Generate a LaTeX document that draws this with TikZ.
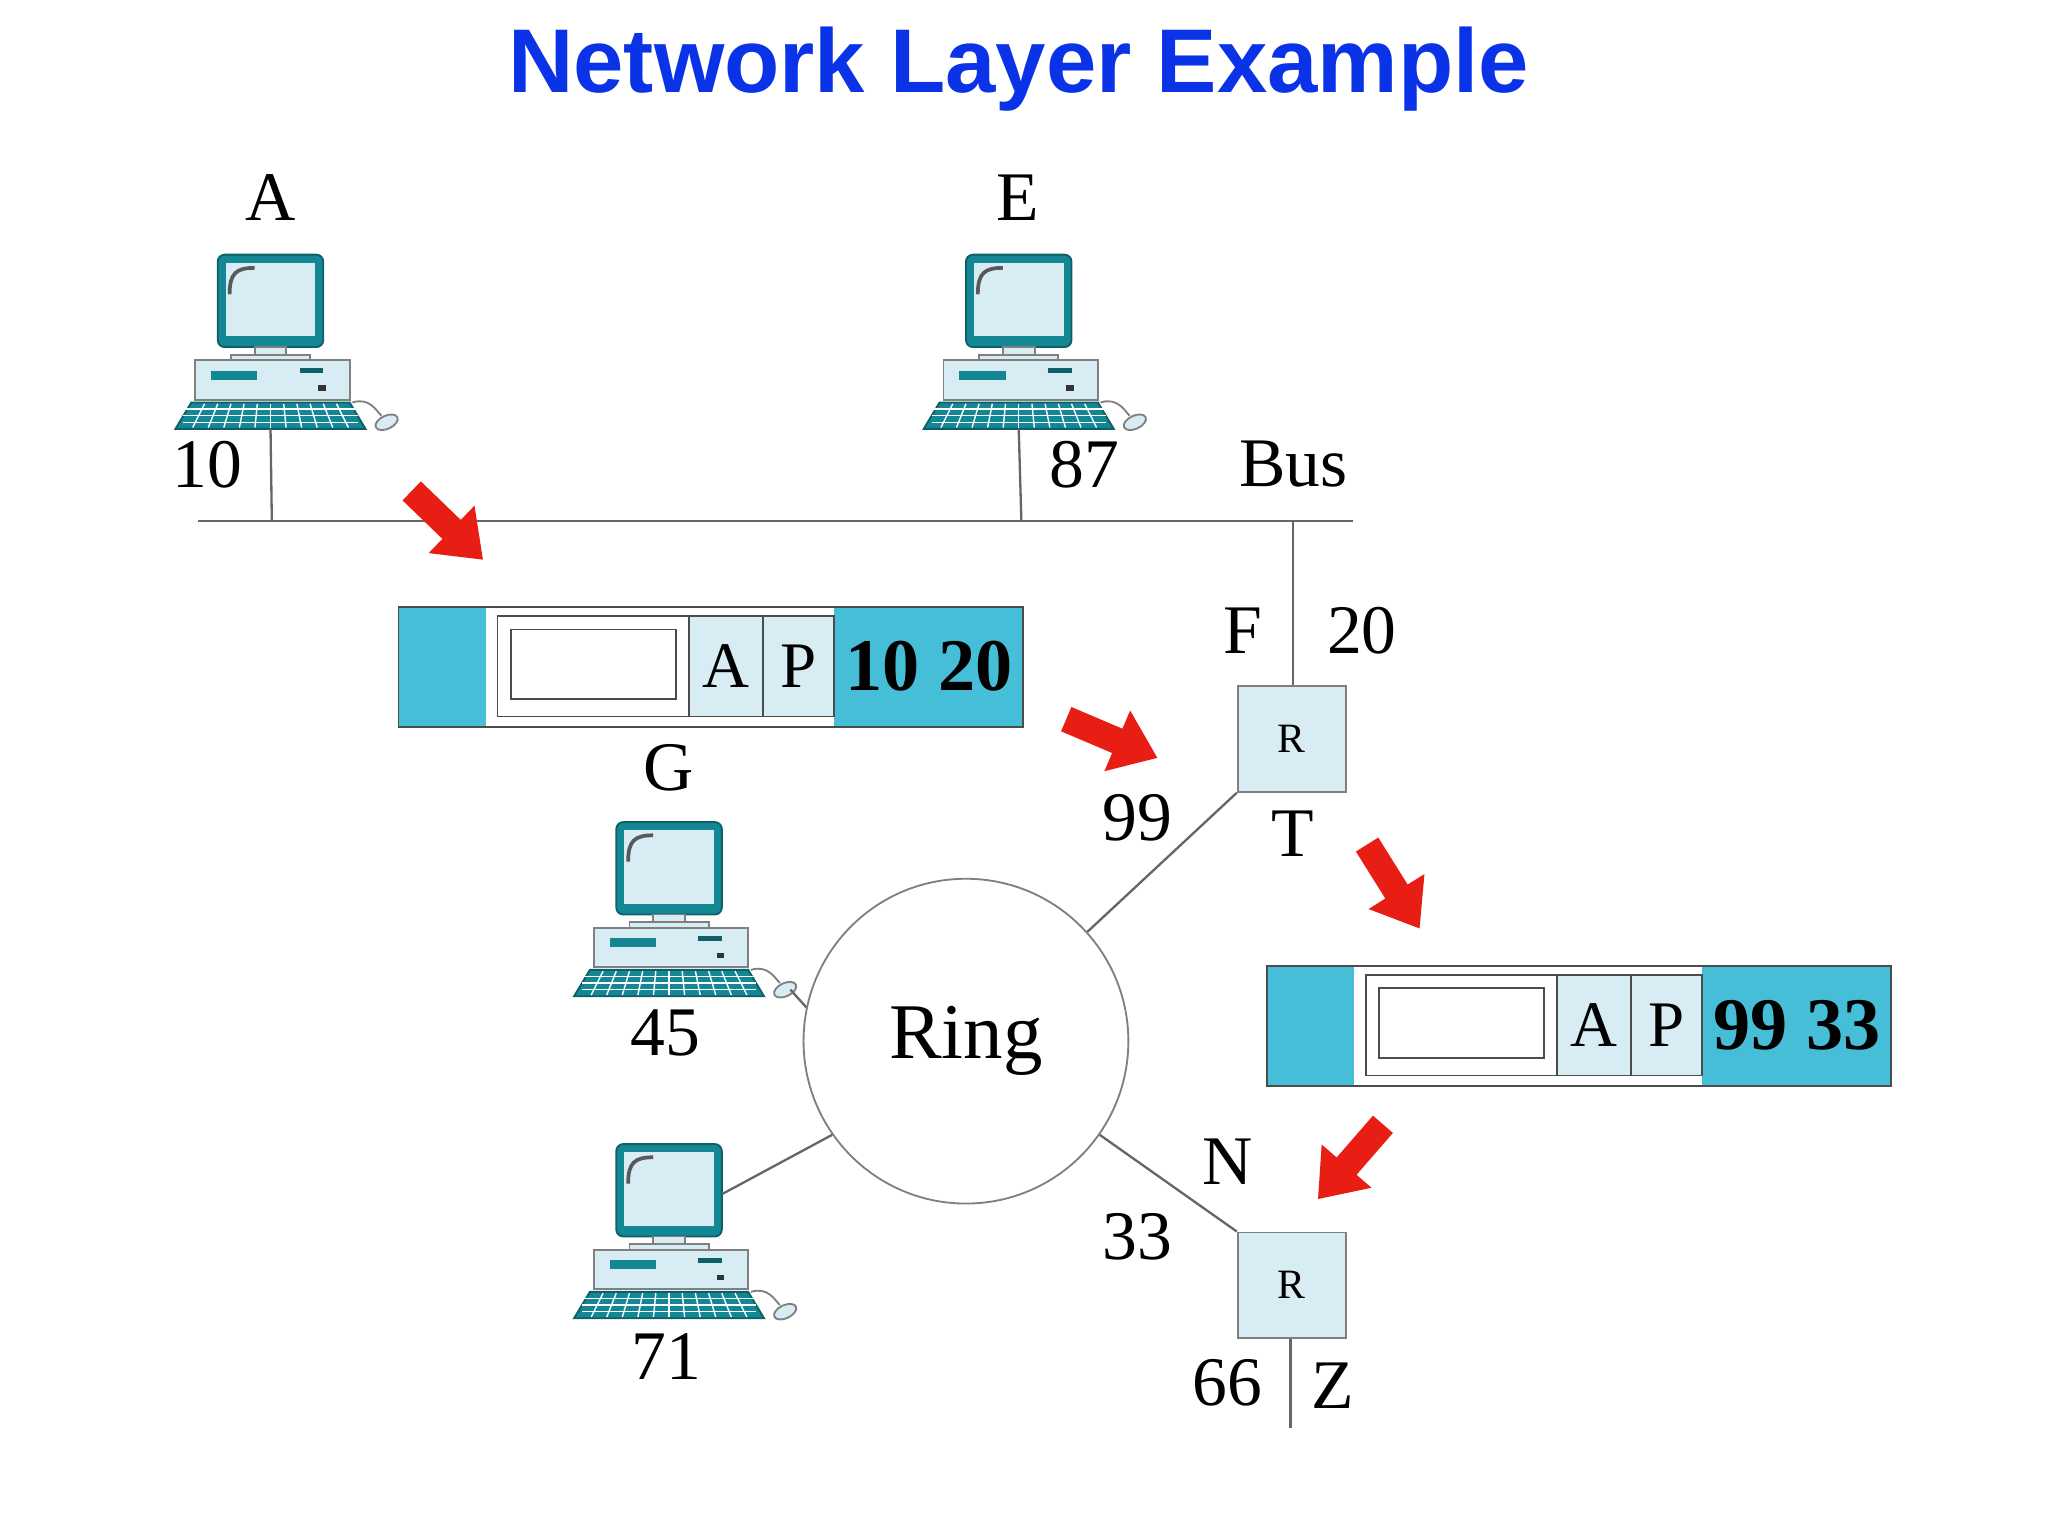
\documentclass[tikz,border=0pt]{standalone}
\usepackage{fontspec}
\setmainfont{Liberation Serif}
\newfontfamily\titlefont{Liberation Sans}
\definecolor{pktblue}{RGB}{70,190,215}
\definecolor{lightblue}{RGB}{215,236,243}
\definecolor{teal}{RGB}{20,135,148}
\definecolor{titleblue}{RGB}{10,50,230}
\definecolor{arrowred}{RGB}{232,30,20}
\tikzset{
  lbl/.style={font=\fontsize{15}{18}\selectfont, inner sep=0pt},
  wire/.style={draw=gray!80!black, line width=0.5pt},
  router/.style={draw=gray, fill=lightblue, minimum width=0.82cm, minimum height=0.8cm, font=\fontsize{9}{10}\selectfont, inner sep=0pt},
}
% computer drawn around (cx,top of monitor)
\newcommand{\pc}[3]{%
  \begin{scope}[shift={(#1,#2)}]
    \draw[teal!70!black, fill=teal, rounded corners=1.5] (-40,0) rectangle (40,70);
    \fill[lightblue] (-34,6) rectangle (34,62);
    \draw[gray!70!black, line width=0.8pt] (-31,30) .. controls (-31,14) and (-26,10) .. (-12,10);
    \draw[gray, fill=lightblue] (-12,70) rectangle (12,76);
    \draw[gray, fill=lightblue] (-30,76) rectangle (30,80);
    \draw[gray, fill=lightblue] (-57,80) rectangle (60,110);
    \fill[teal] (-45,88) rectangle (-10,95);
    \draw[teal!70!black, line width=1pt] (22,88) -- (40,88);
    \fill[black!80] (36,99) rectangle (42,103);
    \draw[teal!70!black, fill=teal] (-60,112) -- (60,112) -- (72,132) -- (-72,132) -- cycle;
    \foreach \k in {-50,-40,...,50} \draw[white, line width=0.3pt] (\k,113) -- (\k*1.18,131);
    \foreach \j in {117,122,127} \draw[white, line width=0.3pt] (-66,\j) -- (66,\j);
    \draw[gray] (62,112) .. controls (75,108) and (80,118) .. (84,122);
    \draw[gray, fill=lightblue, rotate around={25:(88,127)}] (88,127) ellipse (9 and 5);
    \coordinate (#3) at (0,132);
  \end{scope}}
% block arrow: tail point and angle
\newcommand{\redarrow}[3]{%
  \fill[arrowred, shift={(#1,#2)}, rotate=#3]
    (0,-10) -- (42,-10) -- (42,-25) -- (75,0) -- (42,25) -- (42,10) -- (0,10) -- cycle;}
% packet: left x, top y, address text
\newcommand{\packet}[3]{%
  \begin{scope}[shift={(#1,#2)}]
    \draw[gray!60!black, fill=pktblue] (0,0) rectangle (473,91);
    \fill[white] (66,0.5) rectangle (330,90.5);
    \draw[gray!60!black] (75,7) rectangle (330,83);
    \draw[gray!60!black] (85,17) rectangle (210,70);
    \draw[gray!60!black, fill=lightblue] (220,7) rectangle (276,83);
    \draw[gray!60!black, fill=lightblue] (276,7) rectangle (330,83);
    \node[font=\fontsize{14}{16}\selectfont] at (248,45) {A};
    \node[font=\fontsize{14}{16}\selectfont] at (303,45) {P};
    \node[font=\bfseries\fontsize{16}{18}\selectfont] at (402,45) {#3};
  \end{scope}}
\begin{document}
\begin{tikzpicture}[x=0.01cm, y=-0.01cm]
  \useasboundingbox (0,0) rectangle (1552,1164);
  \node[font=\titlefont\bfseries\fontsize{19.5}{24}\selectfont, text=titleblue] (title) at (772,52) {Network Layer Example};
  % computers
  \pc{205}{193}{pcA}
  \pc{772}{193}{pcE}
  \pc{507}{623}{pcG}
  \pc{507}{867}{pcS}
  \node[lbl] (lA) at (205,150) {A};
  \node[lbl] (lE) at (771,150) {E};
  \node[lbl] (lG) at (507,582) {G};
  \node[lbl] (l10) at (157,352) {10};
  \node[lbl] (l87) at (822,352) {87};
  \node[lbl] (lBus) at (980,352) {Bus};
  \node[lbl] (l45) at (504,783) {45};
  \node[lbl] (l71) at (505,1028) {71};
  % bus
  \coordinate (busL) at (150,395);
  \coordinate (busR) at (1025,395);
  \coordinate (tapA) at (206,395);
  \coordinate (tapE) at (774,395);
  \coordinate (tapF) at (980,395);
  \draw[wire] (busL) -- (busR);
  \draw[wire] (pcA) -- (tapA);
  \draw[wire] (pcE) -- (tapE);
  % routers
  \node[router] (r1) at (979,560) {R};
  \node[router] (r2) at (979,974) {R};
  \draw[wire] (tapF) -- (r1.north -| tapF);
  \node[lbl] (lF) at (942,478) {F};
  \node[lbl] (l20) at (1032,478) {20};
  \node[lbl] (lT) at (980,632) {T};
  \node[lbl] (l99) at (862,620) {99};
  \node[lbl] (lN) at (930,880) {N};
  \node[lbl] (l33) at (862,937) {33};
  \node[lbl] (l66) at (930,1048) {66};
  \node[lbl] (lZ) at (1010,1050) {Z};
  % ring
  \node[draw=gray, circle, minimum size=2.46cm, font=\fontsize{17}{20}\selectfont] (ring) at (732,789) {Ring};
  \draw[wire] (r1.south west) -- (ring.42);
  \draw[wire] (r2.north west) -- (ring.-35);
  \draw[wire] (599,750) -- (ring.168);
  \draw[wire] (547,905) -- (ring.215);
  \coordinate (zEnd) at (978,1082);
  \draw[wire] (r2.south -| zEnd) -- (zEnd);
  % packets
  \packet{302}{460}{10 20}
  \packet{960}{732}{99 33}
  % arrows
  \redarrow{312}{372}{-44}
  \redarrow{808}{545}{-23}
  \redarrow{1036}{640}{-58}
  \redarrow{1048}{852}{-131}
\end{tikzpicture}
\end{document}
